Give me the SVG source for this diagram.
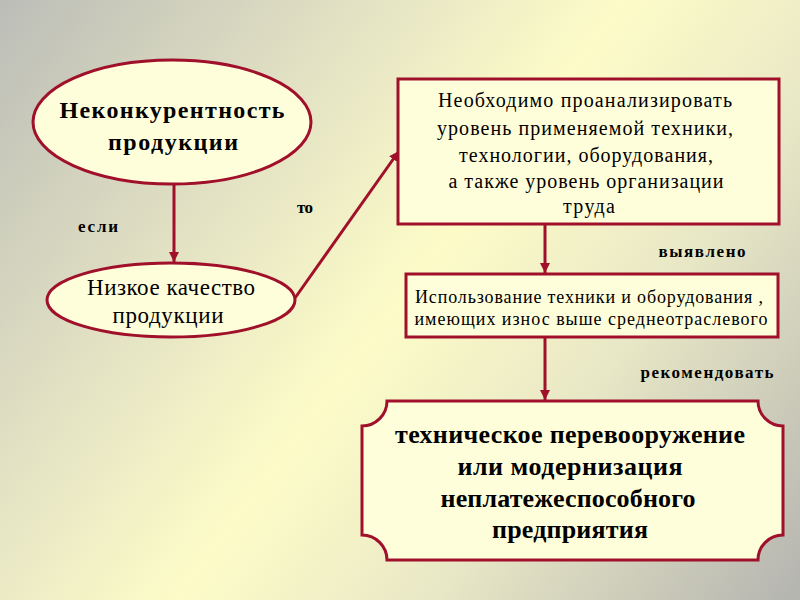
<svg xmlns="http://www.w3.org/2000/svg" width="800" height="600" viewBox="0 0 800 600">
<defs>
<linearGradient id="bg" x1="0" y1="0" x2="800" y2="600" gradientUnits="userSpaceOnUse">
<stop offset="0" stop-color="#bcbdb7"/>
<stop offset="0.3" stop-color="#e4e3c4"/>
<stop offset="0.5" stop-color="#fdfcc8"/>
<stop offset="0.7" stop-color="#e9e8c6"/>
<stop offset="1" stop-color="#b4b4b0"/>
</linearGradient>
<marker id="arr" viewBox="0 0 10 10" refX="10" refY="5" markerWidth="10" markerHeight="10" markerUnits="userSpaceOnUse" orient="auto">
<path d="M0,0 L10,5 L0,10 Z" fill="#a0102a"/>
</marker>
<style>
.shape{fill:#fffedb;stroke:#a0102a;stroke-width:3}
.conn{stroke:#a0102a;stroke-width:3;fill:none}
text{font-family:"Liberation Serif","Times New Roman",serif;fill:#000;text-anchor:middle}
.b{font-weight:bold}
.lbl{font-weight:bold;font-size:17px}
</style>
</defs>
<rect x="0" y="0" width="800" height="600" fill="url(#bg)"/>
<g id="connectors">
<line class="conn" x1="174" y1="185" x2="174" y2="262" marker-end="url(#arr)"/>
<line class="conn" x1="295" y1="298" x2="399" y2="151" marker-end="url(#arr)"/>
<line class="conn" x1="545" y1="224" x2="545" y2="273" marker-end="url(#arr)"/>
<line class="conn" x1="545" y1="337" x2="545" y2="400" marker-end="url(#arr)"/>
<text class="lbl" x="98" y="232" textLength="40" lengthAdjust="spacing">если</text>
<text class="lbl" x="305" y="213" textLength="16" lengthAdjust="spacing">то</text>
<text class="lbl" x="702" y="257" textLength="87" lengthAdjust="spacing">выявлено</text>
<text class="lbl" x="707" y="378" textLength="133" lengthAdjust="spacing">рекомендовать</text>
</g>
<g id="node1">
<ellipse class="shape" cx="172" cy="122" rx="139" ry="62"/>
<text class="b" font-size="24" x="172" y="118" textLength="225" lengthAdjust="spacing">Неконкурентность</text>
<text class="b" font-size="24" x="173" y="150" textLength="130" lengthAdjust="spacing">продукции</text>
</g>
<g id="node2">
<ellipse class="shape" cx="171" cy="300" rx="124" ry="37"/>
<text font-size="23" x="171" y="295" textLength="168" lengthAdjust="spacing">Низкое качество</text>
<text font-size="23" x="168" y="323" textLength="111" lengthAdjust="spacing">продукции</text>
</g>
<g id="node3">
<rect class="shape" x="398" y="79" width="381" height="145"/>
<text font-size="20" x="585" y="107" textLength="294" lengthAdjust="spacing">Необходимо проанализировать</text>
<text font-size="20" x="585" y="135" textLength="296" lengthAdjust="spacing">уровень применяемой техники,</text>
<text font-size="20" x="586" y="162" textLength="254" lengthAdjust="spacing">технологии, оборудования,</text>
<text font-size="20" x="586" y="188" textLength="275" lengthAdjust="spacing">а также уровень организации</text>
<text font-size="20" x="589" y="213" textLength="52" lengthAdjust="spacing">труда</text>
</g>
<g id="node4">
<rect class="shape" x="406" y="274" width="372" height="63"/>
<text font-size="18" x="589" y="303" textLength="348" lengthAdjust="spacing">Использование техники и оборудования ,</text>
<text font-size="18" x="591" y="325" textLength="353" lengthAdjust="spacing">имеющих износ выше среднеотраслевого</text>
</g>
<g id="node5">
<path class="shape" d="M387,401 L758,401 A25,25 0 0 0 783,426 L783,535 A25,25 0 0 0 758,560 L387,560 A25,25 0 0 0 362,535 L362,426 A25,25 0 0 0 387,401 Z"/>
<text class="b" font-size="26" x="570" y="443" textLength="350" lengthAdjust="spacing">техническое перевооружение</text>
<text class="b" font-size="26" x="570" y="475" textLength="225" lengthAdjust="spacing">или модернизация</text>
<text class="b" font-size="26" x="568" y="507" textLength="255" lengthAdjust="spacing">неплатежеспособного</text>
<text class="b" font-size="26" x="570" y="538" textLength="156" lengthAdjust="spacing">предприятия</text>
</g>
</svg>
